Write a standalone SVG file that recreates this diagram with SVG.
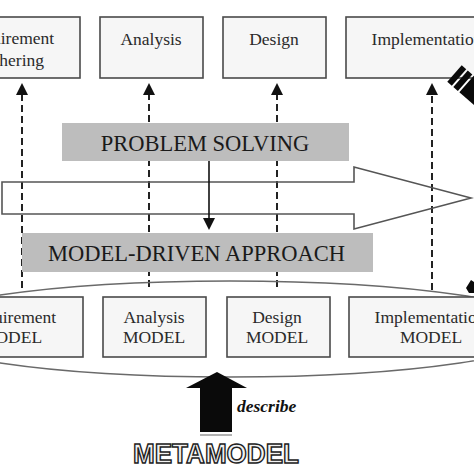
<svg xmlns="http://www.w3.org/2000/svg" width="474" height="474" viewBox="0 0 474 474">
<defs>
<marker id="tri" viewBox="0 0 12 12" refX="0" refY="6" markerWidth="12" markerHeight="12" markerUnits="userSpaceOnUse" orient="auto">
<path d="M0,0 L12,6 L0,12 Z" fill="#111"/>
</marker>
<marker id="tri2" viewBox="0 0 12 12" refX="0" refY="6" markerWidth="12" markerHeight="12" markerUnits="userSpaceOnUse" orient="auto">
<path d="M0,0 L12,6 L0,12 Z" fill="#111"/>
</marker>
</defs>
<style>
.box{fill:#f6f6f6;stroke:#4a4a4a;stroke-width:1.6}
.t{font-family:"Liberation Serif","Times New Roman",serif;font-size:17.5px;fill:#2a2a2a;text-anchor:middle}
.band{fill:#bdbdbd}
.bt{font-family:"Liberation Serif","Times New Roman",serif;font-size:22.5px;fill:#1a1a1a;text-anchor:middle}
.dash{stroke:#222;stroke-width:2;stroke-dasharray:7 4;fill:none}
</style>
<rect width="474" height="474" fill="#ffffff"/>

<g id="connectors">
<line class="dash" x1="22" y1="288" x2="22" y2="95" marker-end="url(#tri)"/>
<line class="dash" x1="149" y1="287" x2="149" y2="95" marker-end="url(#tri)"/>
<line class="dash" x1="277" y1="287" x2="277" y2="95" marker-end="url(#tri)"/>
<line class="dash" x1="432" y1="290" x2="432" y2="95" marker-end="url(#tri)"/>
</g>

<g id="big-arrow">
<path d="M2,182 H354 V167 L471,198 L354,229 V214 H2 Z" fill="none" stroke="#555" stroke-width="1.6"/>
</g>

<g id="problem-solving">
<rect class="band" x="62" y="123" width="287" height="38"/>
<text class="bt" x="205" y="151">PROBLEM SOLVING</text>
</g>

<g id="model-driven">
<rect class="band" x="22" y="233" width="351" height="39"/>
<text class="bt" x="196.5" y="261">MODEL-DRIVEN APPROACH</text>
</g>

<g id="down-arrow">
<line x1="209" y1="161" x2="209" y2="218" stroke="#111" stroke-width="1.6" marker-end="url(#tri2)"/>
</g>

<g id="top-requirement">
<rect class="box" x="-60" y="17" width="140" height="61"/>
<text class="t" x="9" y="44">Requirement</text>
<text class="t" x="9" y="66">Gathering</text>
</g>
<g id="top-analysis">
<rect class="box" x="100" y="17" width="103" height="61"/>
<text class="t" x="151" y="45">Analysis</text>
</g>
<g id="top-design">
<rect class="box" x="223" y="17" width="103" height="61"/>
<text class="t" x="274" y="45">Design</text>
</g>
<g id="top-implementation">
<rect class="box" x="346" y="17" width="160" height="61"/>
<text class="t" x="427" y="45">Implementation</text>
</g>

<g id="ellipse">
<ellipse cx="230" cy="329" rx="325" ry="48" fill="none" stroke="#6a6a6a" stroke-width="1.6"/>
</g>

<g id="bottom-requirement">
<rect class="box" x="-60" y="297" width="143" height="60"/>
<text class="t" x="11" y="323">Requirement</text>
<text class="t" x="11" y="343">MODEL</text>
</g>
<g id="bottom-analysis">
<rect class="box" x="103" y="297" width="103" height="60"/>
<text class="t" x="154" y="323">Analysis</text>
<text class="t" x="154" y="343">MODEL</text>
</g>
<g id="bottom-design">
<rect class="box" x="227" y="297" width="103" height="60"/>
<text class="t" x="277" y="323">Design</text>
<text class="t" x="277" y="343">MODEL</text>
</g>
<g id="bottom-implementation">
<rect class="box" x="349" y="297" width="160" height="60"/>
<text class="t" x="430" y="323">Implementation</text>
<text class="t" x="431" y="343">MODEL</text>
</g>

<g id="describe-arrow">
<path d="M200,432 V388 H186 L217,372 L247,388 H232 V432 Z" fill="#0a0a0a"/>
<line x1="200" y1="435" x2="232" y2="435" stroke="#999" stroke-width="1.5"/>
<text x="237" y="412" font-family="Liberation Serif, serif" font-style="italic" font-weight="bold" font-size="17.5" fill="#111">describe</text>
</g>

<g id="metamodel">
<text x="133" y="463" font-family="Liberation Sans, Arial, sans-serif" font-weight="bold" font-size="28" textLength="166" lengthAdjust="spacingAndGlyphs" fill="#f2f2f2" stroke="#222" stroke-width="1.5">METAMODEL</text>
</g>

<g id="right-marks">
<g transform="translate(454.5,73.5) rotate(41)">
<rect x="0" y="-11" width="6" height="22" fill="#0a0a0a"/>
<rect x="8" y="-11" width="6" height="22" fill="#0a0a0a"/>
<rect x="16" y="-11" width="50" height="22" fill="#0a0a0a"/>
</g>
<path d="M466,288 L471,280 L474,282 L474,293 L469,293 Z" fill="#0a0a0a"/>
</g>
</svg>
